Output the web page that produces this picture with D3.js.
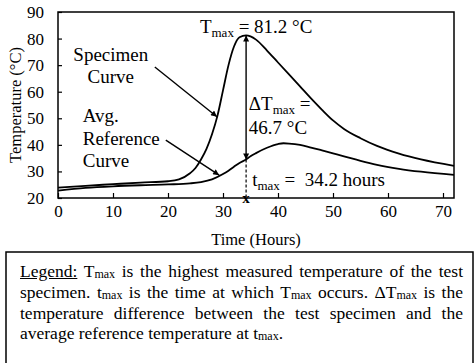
<!DOCTYPE html>
<html>
<head>
<meta charset="utf-8">
<script src="https://cdn.jsdelivr.net/npm/d3@7"></script>
<style>
  body { margin: 0; background: #fff; }
  #wrap { position: relative; width: 474px; height: 363px; overflow: hidden; font-family: "Liberation Serif", "Times New Roman", serif; }
  svg { position: absolute; left: 0; top: 0; }
  .lg { position: absolute; left: 20px; width: 443px; font-size: 17.5px; line-height: 20px; white-space: nowrap; color: #000; }
  .lg.j { text-align: justify; text-align-last: justify; white-space: normal; }
  .lg .s { font-size: 12px; position: relative; top: 1px; }
</style>
</head>
<body>
<div id="wrap"></div>
<script>
// specimen curve (hours, °C)
const specTime = [0, 5, 10, 15, 20, 22, 24, 25, 26, 27, 28, 29, 30, 31, 32, 33, 34.2, 35, 36, 38, 40, 42, 44, 46, 48, 50, 52, 55, 58, 62, 66, 72];
const specTemp = [23.9, 24.6, 25.2, 25.8, 26.3, 27, 29.3, 31.3, 34.5, 38.5, 44, 51, 60.5, 70, 77, 80.5, 81.2, 80.8, 79.6, 75.5, 71, 66.5, 62, 57.5, 53.2, 49.2, 46, 42.5, 39.6, 36.7, 34.5, 32.1];

// average reference curve
const refTime = [0, 5, 10, 15, 20, 24, 26, 28, 30, 31, 32, 33, 34.2, 35, 36, 38, 40, 41, 42, 44, 46, 48, 50, 52, 55, 58, 62, 66, 72];
const refTemp = [22.8, 23.8, 24.4, 24.8, 25.1, 25.5, 26, 27, 29, 30.3, 31.8, 33.2, 34.5, 35.7, 36.9, 38.9, 40.3, 40.6, 40.5, 40, 39, 37.9, 36.8, 35.7, 34, 32.5, 31, 29.9, 28.7];

const xTicks = [0, 10, 20, 30, 40, 50, 60, 70];
const yTicks = [20, 30, 40, 50, 60, 70, 80, 90];

const tMax = 34.2;
const TMax = 81.2;
const dTMax = 46.7;

const W = 474, H = 363;
const m = { left: 58, right: 20, top: 12, bottom: 165 };

const wrap = d3.select('#wrap');
const svg = wrap.append('svg').attr('width', W).attr('height', H);

const x = d3.scaleLinear().domain([0, 72]).range([m.left, W - m.right]);
const y = d3.scaleLinear().domain([20, 90]).range([H - m.bottom, m.top]);

const font = '"Liberation Serif", "Times New Roman", serif';

svg.append('defs').append('marker')
  .attr('id', 'ah')
  .attr('viewBox', '0 0 10 10')
  .attr('refX', 10).attr('refY', 5)
  .attr('markerWidth', 9).attr('markerHeight', 6)
  .attr('markerUnits', 'userSpaceOnUse')
  .attr('orient', 'auto-start-reverse')
  .append('path').attr('d', 'M0,0 L10,5 L0,10 z').attr('fill', '#000');

// Axes (ticks point inward)
const gx = svg.append('g')
  .attr('transform', `translate(0,${y(20)})`)
  .call(d3.axisBottom(x).tickValues(xTicks).tickSize(-5).tickPadding(7));
const gy = svg.append('g')
  .attr('transform', `translate(${x(0)},0)`)
  .call(d3.axisLeft(y).tickValues(yTicks).tickSize(-4).tickPadding(14));
[gx, gy].forEach(g => {
  g.select('.domain').remove();
  g.selectAll('line').attr('stroke', '#000').attr('stroke-width', 1.2);
  g.selectAll('text').attr('font-family', font).attr('font-size', '17px').attr('fill', '#000');
});

// Frame
svg.append('rect')
  .attr('x', x(0)).attr('y', y(90))
  .attr('width', x(72) - x(0)).attr('height', y(20) - y(90))
  .attr('fill', 'none').attr('stroke', '#000').attr('stroke-width', 1.5);

// Curves
const line = d3.line()
  .x(d => x(d[0]))
  .y(d => y(d[1]))
  .curve(d3.curveMonotoneX);

svg.append('path')
  .datum(specTime.map((t, i) => [t, specTemp[i]]))
  .attr('d', line)
  .attr('fill', 'none').attr('stroke', '#000').attr('stroke-width', 1.8);

svg.append('path')
  .datum(refTime.map((t, i) => [t, refTemp[i]]))
  .attr('d', line)
  .attr('fill', 'none').attr('stroke', '#000').attr('stroke-width', 1.8);

// Axis titles
svg.append('text')
  .attr('x', (x(0) + x(72)) / 2).attr('y', 245)
  .attr('text-anchor', 'middle')
  .attr('font-family', font).attr('font-size', '16.5px')
  .text('Time (Hours)');

svg.append('text')
  .attr('transform', `translate(21,${(y(20) + y(90)) / 2}) rotate(-90)`)
  .attr('text-anchor', 'middle')
  .attr('font-family', font).attr('font-size', '16.5px')
  .text('Temperature (°C)');

// Annotations
function label(px, py, parts, anchor) {
  const t = svg.append('text')
    .attr('x', px).attr('y', py)
    .attr('text-anchor', anchor || 'start')
    .attr('font-family', font).attr('font-size', '19px')
    .style('white-space', 'pre');
  parts.forEach(p => {
    const s = t.append('tspan').text(p.t);
    if (p.sub) s.attr('font-size', '13px').attr('dy', 4);
    if (p.up) s.attr('dy', -4);
  });
  return t;
}

label(x(9.6), y(71.6), [{ t: 'Specimen' }], 'middle');
label(x(9.6), y(63.3), [{ t: 'Curve' }], 'middle');
label(x(4.5), y(48.6), [{ t: 'Avg.' }]);
label(x(4.5), y(39.9), [{ t: 'Reference' }]);
label(x(4.5), y(31.6), [{ t: 'Curve' }]);

label(x(25.8), y(82.1), [{ t: 'T' }, { t: 'max', sub: true }, { t: ' = ' + TMax + ' °C', up: true }]);
label(x(34.7), y(53.0), [{ t: 'ΔT' }, { t: 'max', sub: true }, { t: ' =', up: true }]);
label(x(34.7), y(44.0), [{ t: dTMax + ' °C' }]);
label(x(35.3), y(24.5), [{ t: 't' }, { t: 'max', sub: true }, { t: ' =  ' + tMax + ' hours', up: true }]);

// pointer arrows
function arrow(x1, y1, x2, y2, both) {
  const l = svg.append('line')
    .attr('x1', x(x1)).attr('y1', y(y1))
    .attr('x2', x(x2)).attr('y2', y(y2))
    .attr('stroke', '#000').attr('stroke-width', 1.4)
    .attr('marker-end', 'url(#ah)');
  if (both) l.attr('marker-start', 'url(#ah)');
  return l;
}
arrow(17.6, 69.3, 28.9, 50.6);
arrow(19.6, 41.8, 29.3, 28.6);
arrow(tMax, TMax, tMax, TMax - dTMax, true);

// dashed drop line to the time axis
svg.append('line')
  .attr('x1', x(tMax)).attr('y1', y(TMax - dTMax))
  .attr('x2', x(tMax)).attr('y2', y(20))
  .attr('stroke', '#000').attr('stroke-width', 1.2)
  .attr('stroke-dasharray', '3,2');
svg.append('text')
  .attr('x', x(tMax)).attr('y', y(20) + 5)
  .attr('text-anchor', 'middle')
  .attr('font-family', font).attr('font-size', '15px').attr('font-weight', 'bold')
  .text('x');

// Legend box
svg.append('rect')
  .attr('x', 6).attr('y', 252)
  .attr('width', 467).attr('height', 140)
  .attr('fill', 'none').attr('stroke', '#000').attr('stroke-width', 1.5);

const lines = [
  { top: 261, j: true, html: '<u>Legend:</u> T<span class="s">max</span> is the highest measured temperature of the test' },
  { top: 282, j: true, html: 'specimen. t<span class="s">max</span> is the time at which T<span class="s">max</span> occurs. ΔT<span class="s">max</span> is the' },
  { top: 303, j: true, html: 'temperature difference between the test specimen and the' },
  { top: 323, j: false, html: 'average reference temperature at t<span class="s">max</span>.' },
];
wrap.selectAll('div.lg')
  .data(lines)
  .enter()
  .append('div')
  .attr('class', d => 'lg' + (d.j ? ' j' : ''))
  .style('top', d => d.top + 'px')
  .html(d => d.html);
</script>
</body>
</html>
